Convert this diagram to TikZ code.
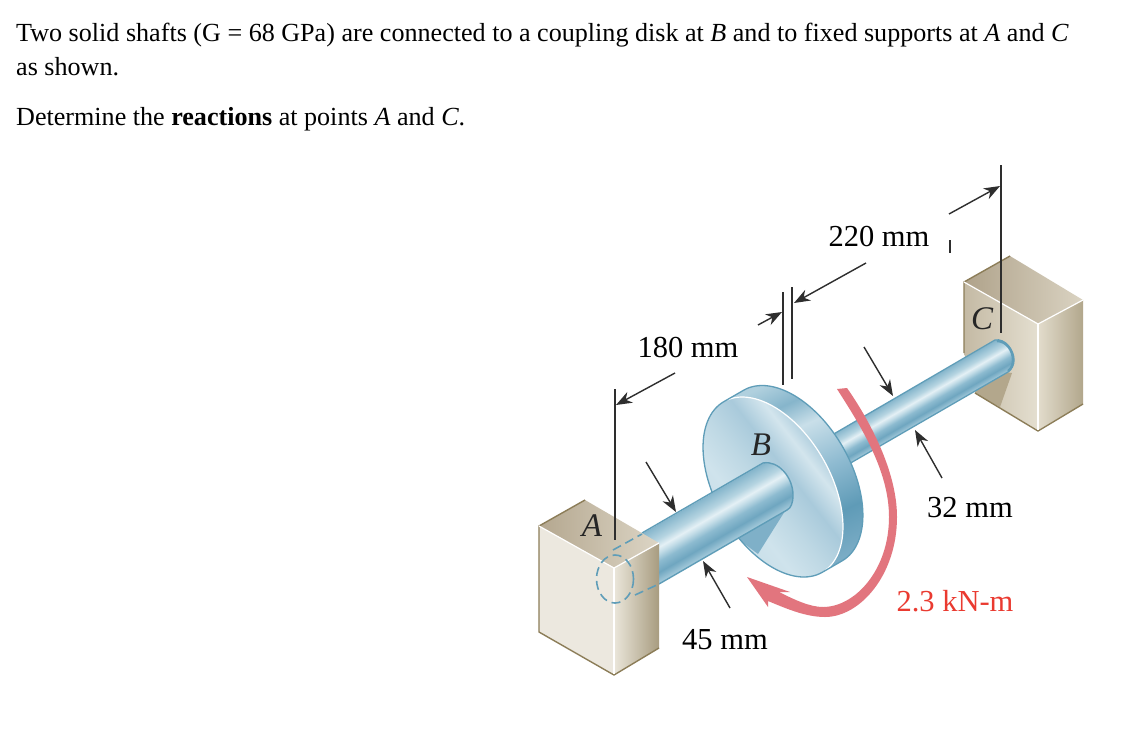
\documentclass[tikz,border=0pt]{standalone}
\usepackage{fontspec}
\setmainfont{Liberation Serif}
\usetikzlibrary{arrows.meta}
\definecolor{edgeteal}{HTML}{5F9DB8}
\definecolor{blockedge}{HTML}{8C7D58}
\definecolor{dimgray}{HTML}{2E2E2E}
\definecolor{momentred}{HTML}{E2757E}
\definecolor{labelred}{HTML}{EA3A30}
\newcommand{\defhex}[1]{\definecolor{c#1}{HTML}{#1}}
\defhex{A9CDDD}\defhex{6FA6C0}\defhex{8DBBD0}\defhex{C2DCE7}\defhex{E4F0F5}\defhex{B5D4E1}\defhex{86B6CC}
\defhex{BCD6E2}\defhex{CFE3EC}\defhex{BED8E4}\defhex{A9CADB}\defhex{D3E5ED}\defhex{A6C8D9}
\defhex{7AACC5}\defhex{5F9BB7}\defhex{8FBBD1}\defhex{C9DFE9}\defhex{86B5CB}\defhex{B0D0DE}
\defhex{C4BAA4}\defhex{E4DFD0}\defhex{AFA28A}\defhex{DAD3C2}\defhex{E2DCCC}\defhex{B2A78C}\defhex{B3A78C}\defhex{7FB0C8}\defhex{ECE8DF}\defhex{B4A78F}\defhex{DCD5C5}\defhex{EAE6DA}\defhex{A89C80}
\pgfdeclareverticalshading{shaftshade}{100bp}{color(0bp)=(cA9CDDD);color(25bp)=(cA9CDDD);color(35bp)=(c6FA6C0);color(44bp)=(c8DBBD0);color(51bp)=(cC2DCE7);color(56bp)=(cE4F0F5);color(63bp)=(cB5D4E1);color(75bp)=(c86B6CC);color(100bp)=(c86B6CC)}
\pgfdeclareverticalshading{faceshade}{100bp}{color(0bp)=(cBCD6E2);color(25bp)=(cBCD6E2);color(41bp)=(cCFE3EC);color(47bp)=(cBED8E4);color(53bp)=(cA9CADB);color(58bp)=(cD3E5ED);color(62bp)=(cA9CADB);color(70bp)=(cA6C8D9);color(100bp)=(cA6C8D9)}
\pgfdeclareverticalshading{rimshade}{100bp}{color(0bp)=(c7AACC5);color(33bp)=(c7AACC5);color(41bp)=(c5F9BB7);color(50bp)=(c8FBBD1);color(59bp)=(cC9DFE9);color(64bp)=(c86B5CB);color(69bp)=(cB0D0DE);color(100bp)=(cB0D0DE)}
\newcommand{\gradband}[8]{% x y angle x0 y0 x1 y1 shading
  \begin{scope}[transform canvas={shift={(#1,#2)},rotate=#3}]
    \shade[shading=#8,shading angle=0] (#4,#5) rectangle (#6,#7);
  \end{scope}}
\def\diskpath{plot[domain=0:180,samples=60] ({98.5*cos(\x)},{-57.4*sin(\x)-23}) -- plot[domain=180:360,samples=60] ({98.5*cos(\x)},{-57.4*sin(\x)}) -- cycle}
\def\shaftAB{(642,533) -- (763,463) .. controls (778,460) and (793,477) .. (793,495) .. controls (793,503) and (791,508) .. (787,510) -- (659,584) -- (600,600) -- cycle}
\def\shaftBC{(820,442) -- (995,340) .. controls (1005,338) and (1014,350) .. (1014,360) .. controls (1014,365) and (1012,369) .. (1008,372) -- (835,472) -- cycle}
\tikzset{
  txt/.style={anchor=base west,inner sep=0pt,font=\fontsize{26.1}{30}\selectfont},
  dimlabel/.style={inner sep=0pt,font=\fontsize{30.5}{36}\selectfont},
  ptlabel/.style={inner sep=0pt,font=\fontsize{33}{36}\selectfont\itshape,text=black!85},
  dimline/.style={draw=dimgray,line width=1.4pt},
  dimarrow/.style={dimline,-{Stealth[length=16pt,width=12pt,inset=5pt]}},
  hidden/.style={draw=edgeteal,line width=1.6pt,dash pattern=on 9pt off 5pt},
  blockline/.style={draw=blockedge,line width=1.4pt,line join=round},
  whiteline/.style={draw=white,line width=1.2pt,line join=round},
  diskframe/.style={shift={(773,487)},rotate=-60},
}
\begin{document}
\begin{tikzpicture}[x=1pt,y=-1pt]
\useasboundingbox (0,0) rectangle (1132,750);
\fill[white] (0,0) rectangle (1132,750);
% text
\node[txt] (t1) at (16,41) {Two solid shafts (G = 68 GPa) are connected to a coupling disk at \textit{B} and to fixed supports at \textit{A} and \textit{C}};
\node[txt] (t2) at (16,75) {as shown.};
\node[txt] (t3) at (16,125) {Determine the \textbf{reactions} at points \textit{A} and \textit{C}.};
% block C
\shade[left color=cC4BAA4,right color=cE4DFD0] (964,282) -- (1038,324) -- (1038,430) -- (975,393) -- (964,353) -- cycle;
\shade[shading angle=60,left color=cAFA28A,right color=cDAD3C2] (964,282) -- (1010,256) -- (1083,300) -- (1038,324) -- cycle;
\shade[left color=cE2DCCC,right color=cB2A78C] (1038,324) -- (1083,300) -- (1083,404) -- (1038,430) -- cycle;
\fill[cB3A78C] (975,393) -- (1000,407) -- (1012,373) -- (990,370) -- cycle;
\draw[blockline] (964,353) -- (964,282) -- (1010,256);
\draw[blockline] (975,393) -- (1038,431) -- (1083,404);
\draw[whiteline] (1083,300) -- (1038,324) -- (964,282);
\draw[whiteline] (1038,324) -- (1038,430);
% shaft BC
\begin{scope}
  \clip \shaftBC;
  \gradband{820}{481}{30}{-30}{0}{240}{-34}{shaftshade}
\end{scope}
\draw[edgeteal,line width=1.3pt,line join=round] (820,442) -- (995,340) .. controls (1005,338) and (1014,350) .. (1014,360) .. controls (1014,365) and (1012,369) .. (1008,372) -- (835,472);
\draw[edgeteal,line width=2.4pt] (997,341) .. controls (1006,341) and (1013,350) .. (1013,360) .. controls (1013,365) and (1011,369) .. (1008,371);
% disk
\begin{scope}
  \clip[diskframe] \diskpath;
  \gradband{775}{490}{25}{-160}{-130}{160}{130}{rimshade}
\end{scope}
\begin{scope}
  \clip[diskframe] (0,0) ellipse (98.5 and 57.4);
  \gradband{775}{480}{-52}{-170}{-120}{170}{120}{faceshade}
  \fill[c7FB0C8] (730,533) -- (758,554) -- (785,511) -- cycle;
\end{scope}
\draw[white,line width=1.2pt,diskframe] plot[domain=4:176,samples=60] ({98.5*cos(\x)},{-57.4*sin(\x)});
\draw[edgeteal,line width=1.3pt,line join=round,diskframe] \diskpath;
% shaft AB
\begin{scope}
  \clip \shaftAB;
  \gradband{620}{606.5}{30}{-30}{0}{230}{-52}{shaftshade}
\end{scope}
\draw[edgeteal,line width=1.4pt,line join=round] (642,533) -- (763,463) .. controls (778,460) and (793,477) .. (793,495) .. controls (793,503) and (791,508) .. (787,510) -- (659,584);
% block A
\fill[cECE8DF] (539,526) -- (614,568) -- (614,674) -- (539,632) -- cycle;
\shade[shading angle=60,left color=cB4A78F,right color=cDCD5C5] (539,526) -- (585,500) -- (659,543) -- (614,568) -- cycle;
\shade[left color=cEAE6DA,right color=cA89C80] (614,568) -- (659,543) -- (659,648) -- (614,674) -- cycle;
\draw[blockline] (659,648) -- (614,675) -- (539,632) -- (539,526) -- (585,500);
\draw[whiteline] (659,543) -- (614,568) -- (539,526);
\draw[whiteline] (614,568) -- (614,674);
% hidden lines
\draw[hidden] (615,579) ellipse (18.5 and 24);
\draw[hidden] (613,550) -- (642,534);
\draw[hidden] (635,595) -- (659,584);
% moment arrow
\fill[momentred] (847,388) .. controls (868,418) and (897,470) .. (897,517)
  .. controls (897,575) and (860,617) .. (825,617)
  .. controls (805,617) and (785,608) .. (768,601)
  -- (768,607) -- (747,577) -- (790,592) -- (779,592)
  .. controls (795,600) and (810,607) .. (823,607)
  .. controls (855,607) and (889,570) .. (889,517)
  .. controls (889,470) and (860,425) .. (837,389) -- cycle;
% dimensions
\coordinate (aTop) at (615,389); \coordinate (aBot) at (615,540);
\draw[dimline] (aTop) -- (aBot);
\coordinate (a1) at (675,373); \coordinate (a2) at (616,405);
\draw[dimarrow] (a1) -- (a2);
\draw[dimline] (783,292) -- (783,385);
\draw[dimline] (792,287) -- (792,379);
\draw[dimarrow] (758,325) -- (782,312);
\draw[dimarrow] (866,263) -- (794,303);
\draw[dimarrow] (949,214) -- (1000,186);
\draw[dimline] (1001,165) -- (1001,333);
\draw[dimline] (950,240) -- (950,253);
\draw[dimarrow] (646,462) -- (676,512);
\draw[dimarrow] (730,608) -- (703,561);
\draw[dimarrow] (864,347) -- (893,396);
\draw[dimarrow] (942,478) -- (915,430);
% labels
\node[dimlabel] (l180) at (688,348) {180 mm};
\node[dimlabel] (l220) at (879,237) {220 mm};
\node[dimlabel] (l45) at (725,640) {45 mm};
\node[dimlabel] (l32) at (970,508) {32 mm};
\node[dimlabel,text=labelred] (lT) at (955,601) {2.3 kN-m};
\node[ptlabel] (pA) at (592,526) {A};
\node[ptlabel] (pB) at (761,445) {B};
\node[ptlabel] (pC) at (982,319) {C};
\end{tikzpicture}
\end{document}
